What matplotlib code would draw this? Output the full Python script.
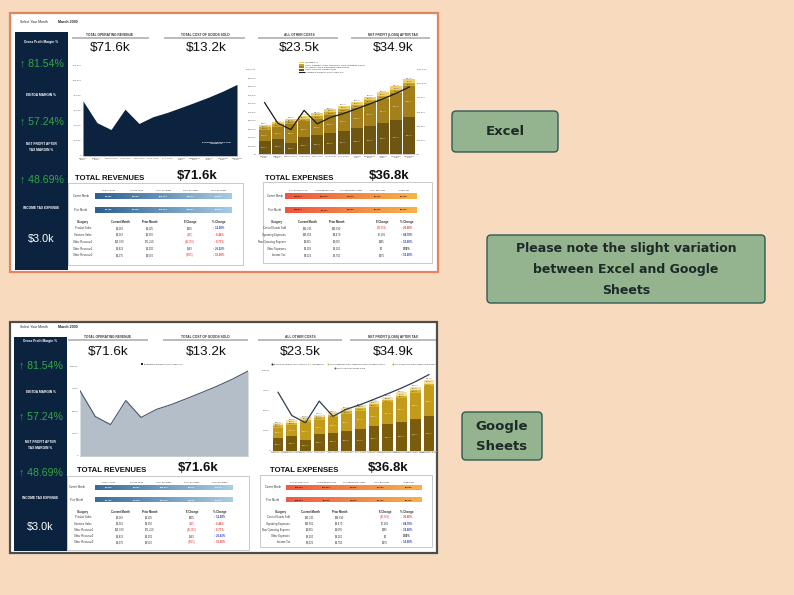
import numpy as np
import matplotlib
matplotlib.use('Agg')
import matplotlib.pyplot as plt
from matplotlib.patches import Rectangle, FancyBboxPatch
from matplotlib.colors import LinearSegmentedColormap

W, H = 794, 595
SANS = ['Liberation Sans', 'DejaVu Sans']
plt.rcParams['font.family'] = SANS

# ---------------- data ----------------
months = ['January', 'February', 'March', 'April', 'May', 'June', 'July',
          'August', 'September', 'October', 'November', 'December']
year = '2030'
net_profit = [73000, 44000, 34900, 62000, 43000, 52000, 57600, 64300, 71200, 78300, 86200, 95100]
cogs = [16000, 18000, 13200, 20500, 22500, 25000, 27000, 30500, 33000, 36500, 40000, 44000]
opex = [13000, 14200, 22500, 18300, 19300, 21400, 23200, 24500, 27400, 29100, 32300, 36500]
dai = [3000, 3000, 3100, 3100, 3200, 3200, 3300, 3300, 3400, 3400, 3500, 3500]
tax = [2500, 2600, 3000, 3100, 3200, 3400, 3500, 3700, 3900, 4000, 4200, 4400]

kpi_labels = ['TOTAL OPERATING REVENUE', 'TOTAL COST OF GOODS SOLD', 'ALL OTHER COSTS',
              'NET PROFIT (LOSS) AFTER TAX']
kpi_values = ['$71.6k', '$13.2k', '$23.5k', '$34.9k']

side_labels = ['Gross Profit Margin %', 'EBITDA MARGIN %', 'NET PROFIT AFTER\nTAX MARGIN %',
               'INCOME TAX EXPENSE']
side_values = ['\u2191 81.54%', '\u2191 57.24%', '\u2191 48.69%', '$3.0k']

rev_total = '$71.6k'
exp_total = '$36.8k'
rev_headers = ['Product Sales', 'Service Sales', 'Other Revenue1', 'Other Revenue2', 'Other Revenue3']
rev_categories = ['Product Sales', 'Services Sales', 'Other Revenue1', 'Other Revenue2', 'Other Revenue3']
rev_current = [1260, 1263, 65000, 2813, 1275]
rev_prior = [1125, 1350, 71250, 2250, 1500]

exp_headers = ['Cost of Goods Sold', 'Operating Expenses', 'Non Operating Expense', 'Other Expenses', 'Income Tax']
exp_categories = ['Cost of Goods Sold', 'Operating Expenses', 'Non Operating Expense', 'Other Expenses', 'Income Tax']
exp_current = [13221, 15651, 1815, 3100, 3025]
exp_prior = [16610, 8470, 1650, 3100, 2750]

legend_labels = ['INCOME TAX', 'TOTAL DEPRECIATION, AMORTIZATION & INTEREST COSTS',
                 'ALL OPERATING & NON-OPERATING COSTS', 'TOTAL COST OF GOODS SOLD',
                 'EARNINGS (PROFIT/LOSS) AFTER TAX']

# ---------------- styles ----------------
NAVY = '#0C2340'
GREEN = '#33A845'
BLUE_TXT = '#2233BB'
RED_TXT = '#E03A3A'
EXCEL_COLS = ['#6E5512', '#A3801A', '#C9A42E', '#EDCF6A']
SHEETS_COLS = ['#7A5C0B', '#C49B18', '#D9B535', '#F3E0A0']

fig = plt.figure(figsize=(W / 100, H / 100), dpi=100)
fig.patch.set_facecolor('#F8DBBF')
bg = fig.add_axes([0, 0, 1, 1])
bg.axis('off')


def ax_at(x0, y0, x1, y1):
    a = fig.add_axes([x0 / W, 1 - y1 / H, (x1 - x0) / W, (y1 - y0) / H])
    a.patch.set_alpha(0)
    return a


def T(x, y, s, size=2.4, color='#222222', ha='center', va='center', weight='normal', z=5, **kw):
    bg.text(x, y, s, fontsize=size, color=color, ha=ha, va=va, fontweight=weight, zorder=z, **kw)


def rect(x0, y0, x1, y1, z=1, **kw):
    bg.add_patch(Rectangle((x0, y0), x1 - x0, y1 - y0, zorder=z, **kw))


def gradient(x0, y0, x1, y1, c0, c1):
    cmap = LinearSegmentedColormap.from_list('g', [c0, c1])
    bg.imshow(np.linspace(0, 1, 256).reshape(1, -1), cmap=cmap, extent=(x0, x1, y1, y0),
              aspect='auto', interpolation='bilinear', zorder=2)


def money(v):
    return f'(${abs(v):,.0f})' if v < 0 else f'${v:,.0f}'


TOP = dict(
    frame=(10, 13, 438, 272), frame_ec='#E2845E',
    sel_y=22, side=(15, 32, 68, 270),
    side_lab_y=[42, 95, 147, 208], side_val_y=[63, 121, 179, 239],
    kpi_hdr_y=34.6, kpi_line_y=37.5, kpi_val_y=47.5,
    kpi_x=[110, 205.7, 299, 393], kpi_lines=[(71.7, 149), (164, 245), (258, 338), (350.7, 430)],
    area=(83, 65.7, 237, 155.7), bar=(258, 69.3, 416, 154.3),
    tot_y=178, tot_val_y=176, rev_title_x=75, rev_val_x=197, exp_title_x=265, exp_val_x=389,
    rev_box=(68, 183, 243, 265), exp_box=(263, 182, 432, 263),
    rev_cells=(95, 232), exp_cells=(285, 417),
    cell_hdr_y=190.8, cur_row=(193.3, 198.7), prior_row=(206.7, 212.7),
    rev_rowlab_x=81, exp_rowlab_x=275,
    tbl_hdr_y=221.7, tbl_rows=[228.3, 235, 241.7, 248.7, 255.3],
    rev_cols=[82.7, 120, 150, 190, 219], exp_cols=[276.7, 307.7, 337, 381.7, 406.7],
    rev_grad=('#2E5F8E', '#A6CBE4'), exp_grad=('#EE5440', '#F8B448'),
)

BOT = dict(
    frame=(10, 322, 437, 553), frame_ec='#4D4D4D',
    sel_y=327, side=(14, 337, 67, 551),
    side_lab_y=[340.7, 392, 445, 498], side_val_y=[365, 416, 472, 527],
    kpi_hdr_y=337.3, kpi_line_y=340, kpi_val_y=351.7,
    kpi_x=[108, 205.7, 300, 393], kpi_lines=[(68, 148), (163, 248), (258, 342), (350, 436)],
    area=(80, 366.7, 248, 455.7), bar=(271.2, 370.7, 435.8, 450.7),
    tot_y=470.7, tot_val_y=467.7, rev_title_x=77, rev_val_x=198, exp_title_x=270, exp_val_x=388,
    rev_box=(67, 475.7, 249, 550), exp_box=(260, 475, 432, 547),
    rev_cells=(95, 233), exp_cells=(286, 422),
    cell_hdr_y=482.6, cur_row=(485, 490), prior_row=(497.3, 502.3),
    rev_rowlab_x=77, exp_rowlab_x=273,
    tbl_hdr_y=511.7, tbl_rows=[517.3, 523.7, 529.7, 536, 542.3],
    rev_cols=[83.3, 120, 149.3, 191.7, 219.3], exp_cols=[281, 310, 339.3, 385, 406.7],
    rev_grad=('#3A6C9A', '#A9CDE3'), exp_grad=('#EF5A44', '#F7B14A'),
)


def frame_and_header(c):
    fx0, fy0, fx1, fy1 = c['frame']
    rect(fx0, fy0, fx1, fy1, facecolor='white', edgecolor=c['frame_ec'], lw=1.6, z=1)
    T(fx0 + 10, c['sel_y'], 'Select Your Month', size=2.4, ha='left')
    T(fx0 + 48, c['sel_y'], 'March 2030', size=2.6, ha='left', weight='bold')
    sx0, sy0, sx1, sy1 = c['side']
    rect(sx0, sy0, sx1, sy1, facecolor=NAVY, edgecolor='none', z=1.5)
    cx = (sx0 + sx1) / 2
    for lab, val, ly, vy in zip(side_labels, side_values, c['side_lab_y'], c['side_val_y']):
        T(cx, ly, lab, size=2.3, color='white', weight='bold', linespacing=1.6)
        if val.startswith('\u2191'):
            T(cx, vy, val, size=7.6, color=GREEN)
        else:
            T(cx, vy, val, size=7.8, color='white')
    for lab, val, x, (lx0, lx1) in zip(kpi_labels, kpi_values, c['kpi_x'], c['kpi_lines']):
        T(x, c['kpi_hdr_y'], lab, size=2.3, weight='bold', color='#333333')
        bg.plot([lx0, lx1], [c['kpi_line_y']] * 2, color='#B5B5B5', lw=1.3, zorder=3,
                solid_capstyle='butt')
        T(x, c['kpi_val_y'], val, size=9.7, color='#111111')


def style_axis(ax, fs=1.7):
    for s in ['top', 'right', 'left']:
        ax.spines[s].set_visible(False)
    ax.spines['bottom'].set_color('#BBBBBB')
    ax.spines['bottom'].set_linewidth(0.5)
    ax.tick_params(length=0, pad=1, labelsize=fs, colors='#555555')


def area_chart(c, excel):
    ax = ax_at(*c['area'])
    x = np.arange(len(months))
    if excel:
        ax.fill_between(x, net_profit, color=NAVY, lw=0)
        ax.set_ylim(0, 120000)
        ticks = np.arange(0, 120001, 20000)
        ax.set_yticks(ticks)
        ax.set_yticklabels([f'{t:,}' for t in ticks])
        ax.set_xticks(x)
        ax.set_xticklabels([f'{m}\n{year}' if len(m) > 5 else f'{m} {year}' for m in months])
        ax.text(9.5, 17000, 'EARNINGS (PROFIT/LOSS)\nAFTER TAX', color='white', fontsize=1.6,
                ha='center', va='center', fontweight='bold')
    else:
        ax.fill_between(x, net_profit, color='#B4BEC8', lw=0)
        ax.plot(x, net_profit, color='#4A5566', lw=0.8)
        ax.set_ylim(0, 100000)
        ticks = np.arange(0, 100001, 25000)
        ax.set_yticks(ticks)
        ax.set_yticklabels([f'{t}' for t in ticks])
        ax.set_xticks([])
        lx = (c['area'][0] + c['area'][2]) / 2 - 22
        ly = c['area'][1] - 2.5
        rect(lx - 1.2, ly - 0.9, lx + 0.6, ly + 0.9, facecolor='#222222', edgecolor='none', z=6)
        T(lx + 1.8, ly, legend_labels[-1], size=1.5, ha='left')
    ax.set_xlim(0, len(months) - 1)
    style_axis(ax)
    ax.tick_params(axis='x', pad=1.5)


def bar_chart(c, excel):
    ax = ax_at(*c['bar'])
    x = np.arange(len(months))
    cols = EXCEL_COLS if excel else SHEETS_COLS
    bottom = np.zeros(len(months))
    for vals, col in zip([cogs, opex, dai, tax], cols):
        v = np.array(vals, dtype=float)
        ax.bar(x, v, bottom=bottom, width=0.9 if excel else 0.78, color=col, lw=0)
        tc = 'white' if col in cols[:2] else '#3A2E00'
        for xi, vi, bi in zip(x, v, bottom):
            ax.text(xi, bi + vi / 2, f'${vi:,.0f}', fontsize=1.3, color=tc, ha='center', va='center')
        bottom += v
    for xi, bi in zip(x, bottom):
        ax.text(xi, bi + 1500, f'${bi:,.0f}', fontsize=1.3, color='#333333', ha='center', va='center')
    ax.set_xlim(-0.5, len(months) - 0.5)
    ax.set_xticks(x)
    if excel:
        ax.set_ylim(0, 100000)
        ticks = np.arange(0, 100001, 10000)
        ax.set_yticks(ticks)
        ax.set_yticklabels([f'${t:,}' for t in ticks])
        ax.set_xticklabels([f'{m}\n{year}' if len(m) > 5 else f'{m} {year}' for m in months])
        ax2 = ax.twinx()
        ax2.patch.set_alpha(0)
        ax2.plot(x, net_profit, color='#1A1A1A', lw=0.9)
        ax2.set_ylim(0, 120000)
        t2 = np.arange(0, 120001, 20000)
        ax2.set_yticks(t2)
        ax2.set_yticklabels([f'${t:,}' for t in t2])
        style_axis(ax2)
        ax2.spines['bottom'].set_visible(False)
        # legend
        lx, ly = 299, 62.5
        for i, lab in enumerate(legend_labels):
            yy = ly + i * 2.4
            if i < 4:
                rect(lx, yy - 0.9, lx + 4.5, yy + 0.9, facecolor=cols[3 - i], edgecolor='none', z=6)
            else:
                bg.plot([lx, lx + 4.5], [yy, yy], color='#1A1A1A', lw=0.8, zorder=6)
            T(lx + 6, yy, lab, size=1.5, ha='left')
    else:
        ax.set_ylim(0, 100000)
        ticks = np.arange(0, 100001, 25000)
        ax.set_yticks(ticks)
        ax.set_yticklabels([f'{t}' for t in ticks])
        ax.set_xticklabels([f'{m} {year}' for m in months])
        ax.plot(x, net_profit, color='#2C3E50', lw=0.9)
        entries = [(271.7, 364.3, '#1A1A1A', legend_labels[4]),
                   (310, 364.3, cols[3], legend_labels[0]),
                   (328, 364.3, cols[2], legend_labels[1]),
                   (393, 364.3, cols[1], legend_labels[2]),
                   (335, 368.2, cols[0], legend_labels[3])]
        for ex, ey, col, lab in entries:
            bg.plot([ex], [ey], marker='o', ms=1.4, color=col, mec='none', zorder=6)
            T(ex + 1.8, ey, lab, size=1.4, ha='left')
    style_axis(ax)


def tables(c):
    for kind in ['rev', 'exp']:
        if kind == 'rev':
            box, cells, grad = c['rev_box'], c['rev_cells'], c['rev_grad']
            heads, cats, cur, pri = rev_headers, rev_categories, rev_current, rev_prior
            title, total, tx, vx = 'TOTAL REVENUES', rev_total, c['rev_title_x'], c['rev_val_x']
            cols, rowlab_x, cell_tc = c['rev_cols'], c['rev_rowlab_x'], 'white'
        else:
            box, cells, grad = c['exp_box'], c['exp_cells'], c['exp_grad']
            heads, cats, cur, pri = exp_headers, exp_categories, exp_current, exp_prior
            title, total, tx, vx = 'TOTAL EXPENSES', exp_total, c['exp_title_x'], c['exp_val_x']
            cols, rowlab_x, cell_tc = c['exp_cols'], c['exp_rowlab_x'], '#3A1500'
        T(tx, c['tot_y'], title, size=5.6, weight='bold', ha='left', color='#111111')
        T(vx, c['tot_val_y'], total, size=9.5, weight='bold', color='#111111')
        rect(*box, facecolor='white', edgecolor='#C9C9C9', lw=0.7, z=1.6)
        x0, x1 = cells
        n = len(heads)
        cw = (x1 - x0) / n
        for (ry0, ry1), lab, vals in [(c['cur_row'], 'Current Month', cur), (c['prior_row'], 'Prior Month', pri)]:
            gradient(x0, ry0, x1, ry1, *grad)
            T(rowlab_x, (ry0 + ry1) / 2, lab, size=1.8, color='#333333')
            for i, v in enumerate(vals):
                T(x0 + cw * (i + 0.5), (ry0 + ry1) / 2, money(v), size=1.7, color=cell_tc, weight='bold')
        for i, h in enumerate(heads):
            T(x0 + cw * (i + 0.5), c['cell_hdr_y'], h, size=1.5, color='#333333')
        hdrs = ['Category', 'Current Month', 'Prior Month', '$ Change', '% Change']
        for hx, h in zip(cols, hdrs):
            T(hx, c['tbl_hdr_y'], h, size=2.0, weight='bold', color='#222222')
        for ry, cat, cv, pv in zip(c['tbl_rows'], cats, cur, pri):
            chg = cv - pv
            pct = chg / pv * 100
            if kind == 'rev':
                T(cols[0], ry, cat, size=1.9, color='#333333')
            else:
                T(cols[0] + 9, ry, cat, size=1.9, color='#333333', ha='right')
            T(cols[1], ry, money(cv), size=1.9, color='#333333')
            T(cols[2], ry, money(pv), size=1.9, color='#333333')
            T(cols[3], ry, money(chg), size=1.9, color=RED_TXT if chg < 0 else '#333333')
            if abs(pct) < 0.005:
                T(cols[4], ry, '0.00%', size=1.9, color='#222222', weight='bold')
            elif pct > 0:
                T(cols[4], ry, f'\u2191 {pct:.2f}%', size=1.9, color=BLUE_TXT, weight='bold')
            else:
                T(cols[4], ry, f'\u2193 {abs(pct):.2f}%', size=1.9, color=RED_TXT, weight='bold')


for conf, excel in [(TOP, True), (BOT, False)]:
    frame_and_header(conf)
    area_chart(conf, excel)
    bar_chart(conf, excel)
    tables(conf)

# ---------------- callouts ----------------
CALL_FC = '#93B48E'
CALL_EC = '#2F5A55'


def callout(x0, y0, x1, y1, lines, ys, size=10):
    bg.add_patch(FancyBboxPatch((x0, y0), x1 - x0, y1 - y0,
                                boxstyle='round,pad=0,rounding_size=4',
                                facecolor=CALL_FC, edgecolor=CALL_EC, lw=1.0, zorder=3))
    for s, y in zip(lines, ys):
        bg.text((x0 + x1) / 2, y, s, fontsize=size, fontweight='bold', color='#1E2A28',
                ha='center', va='center', family=['DejaVu Sans'], zorder=4)


callout(452, 111, 558, 152, ['Excel'], [131.5], size=9.5)
callout(487, 235, 765, 303, ['Please note the slight variation', 'between Excel and Google', 'Sheets'],
        [248.5, 270, 291], size=9)
callout(462, 412, 542, 460, ['Google', 'Sheets'], [426.5, 447], size=9.5)

bg.set_xlim(0, W)
bg.set_ylim(H, 0)
fig.savefig('out.png', dpi=100, facecolor=fig.get_facecolor())
